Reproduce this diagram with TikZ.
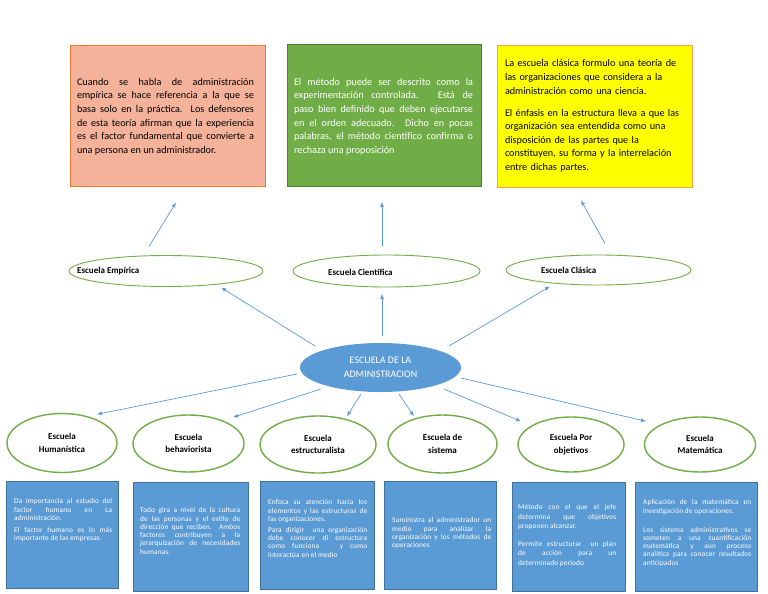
\documentclass[tikz,border=0pt]{standalone}
\usepackage{fontspec}
\setmainfont{Carlito}
\newfontfamily\smallfont[LetterSpace=2]{Carlito}
\usetikzlibrary{shapes.geometric,arrows.meta}
\hbadness=10000
\vbadness=10000
\setlength{\parindent}{0pt}
\definecolor{blu}{HTML}{5B9BD5}
\definecolor{blubd}{HTML}{41719C}
\definecolor{grn}{HTML}{70AD47}
\definecolor{grnbd}{HTML}{507E32}
\definecolor{salfill}{HTML}{F4B29B}
\definecolor{orgbd}{HTML}{ED7D31}
\definecolor{yelbd}{HTML}{F2A14E}
\definecolor{yel}{HTML}{FFFF00}
\tikzset{
  topbox/.style={rectangle, line width=0.8pt, inner sep=0pt},
  toptext/.style={inner sep=0pt, font=\fontsize{10.2}{13.6}\selectfont},
  topell/.style={ellipse, draw=grn, line width=0.9pt, inner sep=0pt},
  toplab/.style={inner sep=0pt, anchor=west, font=\bfseries\fontsize{9}{11}\selectfont},
  botell/.style={ellipse, draw=grn, line width=1.4pt, inner sep=0pt, align=center,
    font=\bfseries\fontsize{9}{12.7}\selectfont},
  bbox/.style={rectangle, draw=blubd, fill=blu, line width=0.8pt, inner sep=0pt},
  btext/.style={inner sep=0pt, anchor=north west, align=justify, text=white,
    font=\smallfont\fontsize{7.3}{8.3}\selectfont},
  arr/.style={draw=blu, line width=0.7pt, -{Latex[length=5pt,width=4pt]}}
}
\begin{document}
\begin{tikzpicture}[x=1pt,y=-1pt]
\fill[white] (0,0) rectangle (768,594);
\useasboundingbox (0,0) rectangle (768,594);

% top boxes
\node[topbox, fill=salfill, draw=orgbd, minimum width=195pt, minimum height=141pt] (box1) at (167.5,115.5) {};
\node[topbox, fill=grn, draw=grnbd, minimum width=194pt, minimum height=142pt] (box2) at (384,115.5) {};
\node[topbox, fill=yel, draw=yelbd, minimum width=195pt, minimum height=142pt] (box3) at (594.5,116) {};

\node[toptext, text width=177pt, align=justify] (t1) at (165.5,116.5)
 {Cuando se habla de administración\linebreak
  empírica se hace referencia a la que se\linebreak
  basa solo en la práctica.\ \ Los defensores\linebreak
  de esta teoría afirman que la experiencia\linebreak
  es el factor fundamental que convierte a\linebreak
  una persona en un administrador.};
\node[toptext, text width=179pt, align=justify, text=white] (t2) at (383.5,116.5)
 {El método puede ser descrito como la\linebreak
  experimentación controlada. Está de\linebreak
  paso bien definido que deben ejecutarse\linebreak
  en el orden adecuado. Dicho en pocas\linebreak
  palabras, el método científico confirma o\linebreak
  rechaza una proposición};
\node[toptext, text width=180pt, align=left] (t3) at (595,116)
 {La escuela clásica formulo una teoría de\\
  las organizaciones que considera a la\\
  administración como una ciencia.\par\vspace{8.4pt}
  El énfasis en la estructura lleva a que las\\
  organización sea entendida como una\\
  disposición de las partes que la\\
  constituyen, su forma y la interrelación\\
  entre dichas partes.};

% middle ellipses
\node[topell, minimum width=194pt, minimum height=31pt] (emp) at (166,271) {};
\node[topell, minimum width=187pt, minimum height=32pt] (cie) at (386.5,271) {};
\node[topell, minimum width=185pt, minimum height=30pt] (cla) at (598.5,270) {};
\node[toplab] (empt) at (77,271) {Escuela Empírica};
\node[toplab] (ciet) at (328,272) {Escuela Científica};
\node[toplab] (clat) at (541,270) {Escuela Clásica};

% center
\node[ellipse, fill=blu, inner sep=0pt, minimum width=161pt, minimum height=49pt,
  align=center, text=white, font=\fontsize{10}{14}\selectfont] (cen) at (380.5,367.5)
  {ESCUELA DE LA\\ADMINISTRACION};

% bottom ellipses
\node[botell, minimum width=110pt, minimum height=59pt] (hum) at (62,443) {Escuela\\Humanística};
\node[botell, minimum width=111pt, minimum height=57pt] (beh) at (188.5,443.5) {Escuela\\behaviorista};
\node[botell, minimum width=116pt, minimum height=57pt] (est) at (318,444.5) {Escuela\\estructuralista};
\node[botell, minimum width=109pt, minimum height=58pt] (sis) at (442.5,444) {Escuela de\\sistema};
\node[botell, minimum width=106pt, minimum height=55pt] (obj) at (571,444.5) {Escuela Por\\objetivos};
\node[botell, minimum width=111pt, minimum height=55pt] (mat) at (700,444.5) {Escuela\\Matemática};

% bottom boxes
\node[bbox, minimum width=112pt, minimum height=107pt] (b1) at (62,534.5) {};
\node[bbox, minimum width=115pt, minimum height=109pt] (b2) at (190.5,536.5) {};
\node[bbox, minimum width=114pt, minimum height=108pt] (b3) at (317,535) {};
\node[bbox, minimum width=112pt, minimum height=108pt] (b4) at (440,535) {};
\node[bbox, minimum width=113pt, minimum height=109pt] (b5) at (568.5,536.5) {};
\node[bbox, minimum width=122pt, minimum height=109pt] (b6) at (696,536.5) {};

\node[btext, text width=98pt] (bt1) at (14,498.5)
 {Da importancia al estudio del\linebreak
  factor humano en La\linebreak
  administración.\par\vspace{3.4pt}
  El factor humano es lo más\linebreak
  importante de las empresas.};
\node[btext, text width=100pt] (bt2) at (140,507.5)
 {Todo gira a nivel de la cultura\linebreak
  de las personas y el estilo de\linebreak
  dirección que reciben. Ambos\linebreak
  factores contribuyen a la\linebreak
  jerarquización de necesidades\linebreak
  humanas.};
\node[btext, text width=99pt] (bt3) at (268,499.5)
 {Enfoca su atención hacia los\linebreak
  elementos y las estructuras de\linebreak
  las organizaciones.\par\vspace{2.7pt}
  Para dirigir\ \ una organización\linebreak
  debe conocer di estructura\linebreak
  como funciona\ \ \ y como\linebreak
  interactúa en el medio};
\node[btext, text width=99pt] (bt4) at (392,517.5)
 {Suministra al administrador un\linebreak
  medio para analizar la\linebreak
  organización y los métodos de\linebreak
  operaciones};
\node[btext, text width=98pt, font=\smallfont\fontsize{7.3}{9.3}\selectfont] (bt5) at (518,504.5)
 {Método con el que el jefe\linebreak
  determina que objetivos\linebreak
  proponen alcanzar.\par\vspace{9pt}
  Permite estructurar\ \ un plan\linebreak
  de acción para un\linebreak
  determinado periodo};
\node[btext, text width=108pt] (bt6) at (643,499.5)
 {Aplicación de la matemática en\linebreak
  investigación de operaciones.\par\vspace{10.7pt}
  Los sistema administrativos se\linebreak
  someten a una cuantificación\linebreak
  matemática y aun proceso\linebreak
  analítico para conocer resultados\linebreak
  anticipados};

% arrows: ellipses to top boxes
\draw[arr] ([shift={(-17,-8.5)}]emp.north) -- ([shift={(8.5,16)}]box1.south);
\draw[arr] ([shift={(-4.5,-8.5)}]cie.north) -- ([shift={(-2,15)}]box2.south);
\draw[arr] ([shift={(6.5,-11)}]cla.north) -- ([shift={(-13.5,13)}]box3.south);
% center to middle ellipses
\draw[arr] ([shift={(-65.5,-21.5)}]cen.center) -- ([shift={(55,0.5)}]emp.south);
\draw[arr] ([shift={(1.5,-31.5)}]cen.center) -- ([shift={(-4.5,6.5)}]cie.south);
\draw[arr] ([shift={(68.5,-21.5)}]cen.center) -- ([shift={(-48.5,1)}]cla.south);
% center to bottom ellipses
\draw[arr] ([shift={(-83.5,6.5)}]cen.center) -- ([shift={(35,1.5)}]hum.north);
\draw[arr] ([shift={(-59.5,21.5)}]cen.center) -- ([shift={(44.5,3)}]beh.north);
\draw[arr] ([shift={(-19.5,26.5)}]cen.center) -- ([shift={(29,1)}]est.north);
\draw[arr] ([shift={(18.5,26.5)}]cen.center) -- ([shift={(-28.5,2)}]sis.north);
\draw[arr] ([shift={(63.5,21.5)}]cen.center) -- ([shift={(-50,5)}]obj.north);
\draw[arr] ([shift={(80.5,10.5)}]cen.center) -- ([shift={(-54,5)}]mat.north);
\end{tikzpicture}
\end{document}
